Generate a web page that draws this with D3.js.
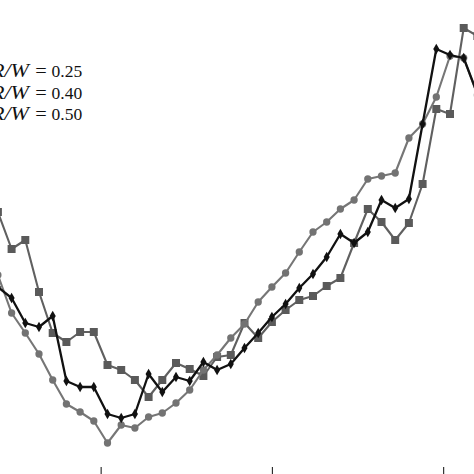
<!DOCTYPE html>
<html>
<head>
<meta charset="utf-8">
<script src="https://cdn.jsdelivr.net/npm/d3@7"></script>
<style>
  body { margin: 0; background: #fff; }
  svg { display: block; }
</style>
</head>
<body>
<script>
// x positions shared by all three series
var xValues = [4.0, 4.8, 5.6, 6.4, 7.2, 8.0, 8.8, 9.6, 10.4, 11.2, 12.0, 12.8,
               13.6, 14.4, 15.2, 16.0, 16.8, 17.6, 18.4, 19.2, 20.0, 20.8, 21.6, 22.4,
               23.2, 24.0, 24.8, 25.6, 26.4, 27.2, 28.0, 28.8, 29.6, 30.4, 31.2, 32.0];

// R/W = 0.25 (squares)
var seriesA = [2.88, 2.51, 2.60, 2.08, 1.67, 1.58, 1.68, 1.68, 1.35, 1.30, 1.20, 1.03,
               1.20, 1.37, 1.31, 1.24, 1.43, 1.45, 1.77, 1.62, 1.78, 1.90, 2.00, 2.04,
               2.14, 2.22, 2.57, 2.91, 2.78, 2.60, 2.77, 3.16, 3.91, 3.86, 4.72, 4.64];
// R/W = 0.40 (diamonds)
var seriesB = [2.13, 2.02, 1.77, 1.73, 1.84, 1.19, 1.13, 1.13, 0.86, 0.82, 0.86, 1.26,
               1.08, 1.23, 1.19, 1.38, 1.30, 1.36, 1.52, 1.67, 1.83, 1.96, 2.12, 2.26,
               2.43, 2.66, 2.57, 2.68, 3.00, 2.92, 3.01, 3.76, 4.51, 4.45, 4.42, 4.06];
// R/W = 0.50 (circles)
var seriesC = [2.25, 1.87, 1.67, 1.46, 1.20, 0.96, 0.88, 0.79, 0.57, 0.75, 0.72, 0.83,
               0.87, 0.97, 1.10, 1.30, 1.45, 1.62, 1.76, 1.98, 2.13, 2.27, 2.48, 2.68,
               2.78, 2.91, 3.00, 3.21, 3.24, 3.27, 3.62, 3.76, 4.03, 4.44, 4.42, 4.05];

var legendLabels = ["0.25", "0.40", "0.50"];
var xTicks = [10, 20, 30];

var screen = {width: 474, height: 474};

var x = d3.scaleLinear().domain([4, 32]).range([-2.1, 477.4]);
var y = d3.scaleLinear().domain([0, 5]).range([500, 0]);

var svg = d3.select("body")
            .append("svg")
            .attr("width", screen.width)
            .attr("height", screen.height);

// inward ticks, axis line sits just below the visible area
svg.append("g")
   .attr("transform", "translate(0,476)")
   .call(d3.axisBottom(x).tickValues(xTicks).tickSize(-9).tickFormat(""))
   .call(function(g) {
     g.select(".domain").attr("stroke", "#222");
     g.selectAll(".tick line").attr("stroke", "#222").attr("stroke-width", 1.1);
   });

var series = [
  {values: seriesA, color: "#5a5a5a", lineColor: "#606060", width: 2.1, symbol: d3.symbolSquare, size: 64},
  {values: seriesC, color: "#737373", lineColor: "#767676", width: 2.1, symbol: d3.symbolCircle, size: 42},
  {values: seriesB, color: "#111", lineColor: "#111", width: 2.3, symbol: d3.symbolDiamond, size: 32}
];

var line = d3.line()
             .x(function(d) { return x(d[0]); })
             .y(function(d) { return y(d[1]); });

series.forEach(function(s) {
  var pts = xValues.map(function(v, i) { return [v, s.values[i]]; });

  var g = svg.append("g");

  g.append("path")
   .attr("d", line(pts))
   .attr("fill", "none")
   .attr("stroke", s.lineColor)
   .attr("stroke-width", s.width)
   .attr("stroke-linejoin", "round");

  g.selectAll("path.mark")
   .data(pts)
   .enter()
   .append("path")
   .attr("class", "mark")
   .attr("transform", function(d) { return "translate(" + x(d[0]) + "," + y(d[1]) + ")"; })
   .attr("d", d3.symbol().type(s.symbol).size(s.size))
   .attr("fill", s.color);
});

// legend (its symbols fall outside the cropped area on the left)
var legend = svg.append("g")
                .attr("font-family", "'Liberation Serif', 'Times New Roman', serif")
                .attr("fill", "#111");

legendLabels.forEach(function(lab, i) {
  var yy = 77 + i * 21.6;
  legend.append("text")
        .attr("x", 29)
        .attr("y", yy)
        .attr("text-anchor", "end")
        .attr("font-style", "italic")
        .attr("font-size", 18)
        .attr("textLength", 38)
        .attr("lengthAdjust", "spacingAndGlyphs")
        .text("R/W");
  legend.append("text")
        .attr("x", 41)
        .attr("y", yy)
        .attr("text-anchor", "middle")
        .attr("font-size", 18)
        .attr("textLength", 11.5)
        .attr("lengthAdjust", "spacingAndGlyphs")
        .text("=");
  legend.append("text")
        .attr("x", 51.5)
        .attr("y", yy)
        .attr("font-size", 17.5)
        .text(lab);
});
</script>
</body>
</html>
